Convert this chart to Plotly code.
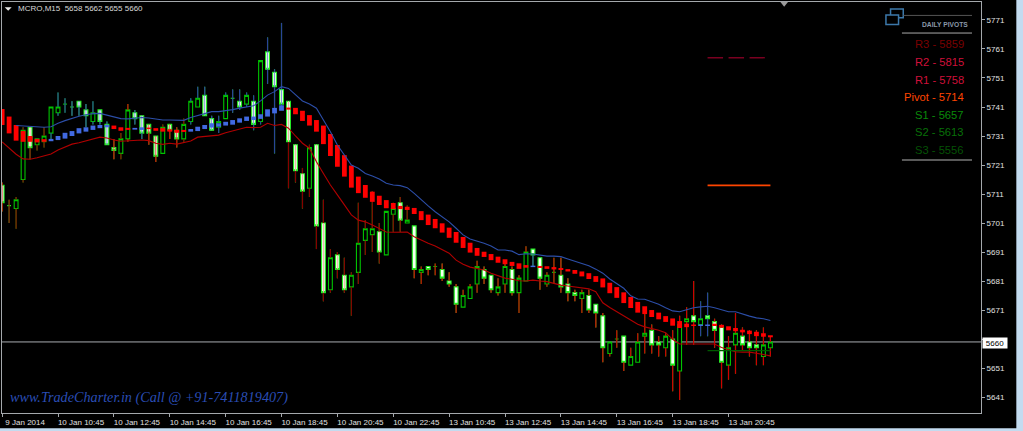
import plotly.graph_objects as go

W, H = 1023, 431
L, R, T, B = 2.3, 980.7, 2.3, 412.7

tick_bars = [0, 8, 16, 24, 32, 40, 48, 56, 64, 72, 80, 88, 96, 104]
tick_labels = ["9 Jan 2014", "10 Jan 10:45", "10 Jan 12:45", "10 Jan 14:45", "10 Jan 16:45",
               "10 Jan 18:45", "10 Jan 20:45", "10 Jan 22:45", "13 Jan 10:45", "13 Jan 12:45",
               "13 Jan 14:45", "13 Jan 16:45", "13 Jan 18:45", "13 Jan 20:45"]
price_ticks = [5771, 5761, 5751, 5741, 5731, 5721, 5711, 5701, 5691, 5681, 5671, 5661, 5651, 5641]
last_price = 5660
pivot_names = ["R3", "R2", "R1", "Pivot", "S1", "S2", "S3"]
pivot_values = [5859, 5815, 5758, 5714, 5657, 5613, 5556]
pivot_colors = ["#7a0000", "#d0103a", "#d0103a", "#ff4500", "#0a8a0a", "#087008", "#055205"]

open_ = [5714,5707,5706,5716,5734,5728,5729,5732,5739,5742,5741,5743,5740,5736,5740,5735,5727,5725,5730,5739,
         5738,5735,5731,5725,5735,5733,5730,5736,5741,5745,5737,5734,5737,5744,5743,5742,5743,5736,5760,5753,
         5747,5743,5728,5718,5713,5728,5701,5678,5690,5683,5679,5684,5695,5697,5698,5690,5704,5708,5701,5700,
         5684,5686,5686,5685,5681,5679,5672,5675,5680,5685,5683,5677,5680,5685,5677,5681,5692,5689,5680,5684,
         5683,5680,5677,5675,5676,5673,5669,5656,5661,5662,5652,5653,5662,5664,5660,5658,5661,5650,5667,5669,
         5666,5669,5667,5665,5652,5659,5662,5660,5659,5655,5658]
high = [5715,5709,5710,5734,5734,5730,5734,5741,5746,5744,5743,5743,5742,5743,5740,5736,5730,5732,5742,5740,
        5738,5735,5731,5735,5735,5734,5737,5744,5748,5748,5738,5738,5746,5747,5747,5746,5745,5757,5765,5754,
        5770,5743,5728,5720,5728,5728,5709,5692,5691,5689,5684,5708,5702,5712,5701,5705,5708,5710,5707,5700,
        5686,5686,5687,5687,5684,5680,5678,5680,5688,5686,5683,5682,5688,5686,5683,5693,5692,5689,5684,5689,
        5689,5682,5678,5678,5678,5673,5670,5660,5664,5662,5658,5663,5670,5666,5662,5663,5664,5669,5672,5681,
        5674,5677,5668,5666,5662,5670,5665,5664,5664,5665,5662]
low = [5705,5701,5699,5715,5723,5726,5727,5730,5738,5739,5738,5738,5734,5735,5735,5728,5723,5723,5729,5735,
       5730,5728,5722,5725,5730,5727,5729,5735,5741,5738,5733,5732,5737,5739,5740,5741,5733,5735,5749,5725,
       5740,5713,5715,5706,5710,5692,5674,5677,5682,5677,5669,5680,5690,5691,5687,5690,5698,5698,5701,5682,
       5680,5683,5683,5681,5679,5670,5672,5675,5677,5680,5677,5676,5677,5676,5670,5681,5686,5678,5679,5680,
       5677,5674,5674,5670,5670,5665,5653,5655,5658,5650,5652,5653,5656,5656,5655,5655,5643,5640,5659,5659,
       5662,5662,5658,5644,5647,5649,5657,5655,5652,5652,5655]
close = [5708,5707,5709,5733,5727,5730,5731,5741,5741,5742,5741,5741,5738,5739,5736,5728,5726,5730,5740,5737,
         5732,5732,5724,5734,5733,5730,5735,5743,5744,5738,5733,5736,5745,5744,5741,5745,5735,5757,5754,5748,
         5742,5729,5719,5712,5727,5700,5677,5689,5685,5678,5683,5694,5699,5699,5691,5705,5706,5702,5702,5685,
         5685,5685,5686,5682,5680,5673,5676,5679,5686,5682,5678,5679,5686,5677,5682,5691,5690,5682,5683,5684,
         5679,5677,5676,5677,5671,5670,5658,5660,5661,5653,5655,5660,5663,5659,5659,5662,5652,5666,5668,5667,
         5668,5668,5664,5653,5658,5663,5659,5658,5658,5659,5660]

trend = ["R"] + ["D"]*6 + ["B"]*9 + ["R", "D", "R"] + ["B"]*2 + ["R"]*2 + ["D"] + ["R"]*2 + ["D"] + ["B"]*14 \
        + ["D"]*18 + ["R"]*17 + ["B"] + ["R"]*23 + ["B"]*2 + ["R"]*9

ha_top = [5740.3,5737.7,5734.8,5732.7,5731,5730,5729.9,5730,5731,5732.1,5732.7,5733.7,5734,5734.6,5734.8,5734.8,
          5734.6,5734,5733.8,5733.8,5734,5733.9,5733.7,5733.7,5733.3,5733.1,5733.1,5733.4,5734.2,5734.8,5735.4,
          5735.4,5735.9,5736.5,5737.1,5737.7,5737.7,5738.5,5740.2,5740.7,5741.6,5740.8,5740.7,5739.7,5738.2,5736.5,
          5734.6,5731.7,5727.9,5724.4,5720.8,5717,5714.1,5711.8,5710.4,5708.9,5707.9,5706.9,5706.6,5706.2,5705.1,
          5703.9,5702.4,5700.9,5699.4,5697.9,5696.2,5694.2,5692.4,5691.1,5690.3,5689.4,5688.5,5687.6,5687.1,5686.5,
          5686.3,5686.2,5686.1,5685.8,5685.5,5685.1,5684.8,5684.3,5683.7,5682.7,5681.9,5680.4,5678.9,5677.1,5675.5,
          5673.8,5672.3,5671,5670.1,5668.9,5668.1,5667.2,5666.3,5666,5666,5666,5666.3,5665.9,5665.4,5664.8,5664.2,
          5663.9,5663.5,5663,5662.3]
ha_bottom = [5734.8,5731.9,5729.4,5729,5729,5728.8,5729,5729.2,5729.6,5730.1,5731,5731.9,5732.5,5733.1,5733.7,5734,
             5733.4,5732.8,5733.1,5733.2,5733.1,5733.4,5732.8,5732.5,5732.5,5732.1,5732.4,5732.5,5732.7,5733.4,5733.9,
             5734.2,5734.6,5734.9,5735.6,5736.2,5736.5,5736.9,5737.7,5738.8,5739.7,5740.1,5738.5,5736.2,5734.6,5732.5,
             5728.2,5724.1,5720.4,5717,5713.2,5711.3,5709.7,5708.3,5707.2,5706.1,5705.8,5705.8,5705.5,5704.1,5702,
             5700.3,5699.2,5697.7,5695.9,5694.2,5692.4,5690.8,5689.7,5689.3,5688.2,5687.3,5686.8,5686.2,5685.2,5685.6,
             5685.8,5685.5,5685.2,5685,5684.8,5684.3,5683.5,5682.6,5681.7,5680.7,5678.8,5676.8,5675.2,5673.4,5671.7,
             5670.1,5669.6,5668.6,5667.8,5666.9,5665.6,5664.8,5665.1,5665.5,5665.5,5665.5,5665.5,5664.9,5664,5663.7,
             5663.3,5662.7,5662,5661.8,5661.6]

upper_band = [None,None,5734.6,5734.4,5734.2,5734,5734,5734.2,5735.4,5736.3,5737.1,5737.8,5738.3,5738.7,5738.8,5738.2,
              5737.4,5737,5736.9,5737.1,5737.4,5737.2,5736.8,5736.5,5736.5,5736.5,5736.4,5737.4,5738,5738.8,5739.4,
              5739.4,5739.7,5740.1,5740.6,5741.1,5741.4,5743.1,5745.1,5746.3,5748,5747.4,5745.1,5743.1,5742,5740.6,
              5736.5,5732.5,5727.9,5724.4,5721,5719.9,5718.1,5717.2,5716.2,5714.7,5714.1,5713.9,5713.2,5711.2,5708.9,
              5706.9,5704.9,5703.2,5701.4,5699.2,5696.9,5695.5,5694.8,5694,5693.1,5691.7,5691.7,5691.3,5690.1,5690.4,
              5690.3,5690,5689.6,5689.6,5689.4,5688.6,5687.9,5687.1,5686.3,5685.1,5683.7,5681.7,5680.2,5678.5,5675.9,
              5674.8,5674.7,5673.9,5673,5671.8,5670.7,5670.4,5671,5671.8,5672.1,5672.3,5671.8,5671.1,5670.4,5670.4,
              5669.6,5668.9,5668.3,5668,5667.4]
lower_band = [5729,5726.8,5724.7,5723.1,5723,5723.5,5724.1,5724.8,5726.2,5727.3,5728.2,5728.7,5729.4,5730.1,5730.6,5730.3,
              5729.6,5729.2,5729.3,5729.6,5729.6,5729.4,5728.5,5728.1,5728.5,5728.2,5728.7,5729.3,5730.6,5730.9,5731,
              5731.3,5732.1,5732.8,5733.3,5734,5733.9,5734,5735.4,5734.6,5735,5733.7,5731,5728.5,5726.8,5722.1,5718.1,
              5714.1,5710.7,5707.2,5703.8,5702,5701.4,5700.3,5699.2,5697.9,5697.8,5697.9,5697.9,5696.3,5695.1,5694,
              5693.1,5691.9,5690.6,5688.2,5686.8,5685.8,5685.4,5684.8,5683.7,5682.8,5682,5681.6,5681.1,5681,5681.3,5681,
              5680.8,5680.2,5679.6,5679.3,5679,5678.8,5678.3,5677.3,5673.5,5671.9,5670.4,5668.9,5667.4,5666.1,5665.2,
              5664.7,5664,5663.2,5660.9,5659.3,5659.2,5659.3,5659.3,5659.3,5659.3,5658.1,5657.4,5656.6,5656.5,5656.5,
              5656.1,5655.7,5655.2]

bars = list(range(len(close)))
body_top = [max(o, c) for o, c in zip(open_, close)]
body_bottom = [min(o, c) for o, c in zip(open_, close)]
FIRST_CLEAN_BODY = 59
WICK_COLORS = {"B": "#2a4596", "D": "#860000", "R": "#cc0000"}
TINT_COLORS = {"B": "#7f95dd", "D": "#eeb4a4", "R": "#e04848"}


def px(x):
    return (x - L) / (R - L)


def py(y):
    return 1 - (y - T) / (B - T)


def segments(idx, lo, hi):
    xs, ys = [], []
    for i in idx:
        xs += [i, i, None]
        ys += [lo[i], hi[i], None]
    return xs, ys


def add_lines(xs, ys, **line):
    fig.add_trace(go.Scatter(x=xs, y=ys, mode="lines", line=line, hoverinfo="skip", showlegend=False))


fig = go.Figure()
fig.add_trace(go.Candlestick(
    x=bars, open=open_, high=high, low=low, close=close, hoverinfo="skip", showlegend=False,
    increasing=dict(line=dict(color="#00c400", width=1.1), fillcolor="#000000"),
    decreasing=dict(line=dict(color="#22ee22", width=1.1), fillcolor="#f6fff2")))

for tone, color in WICK_COLORS.items():
    idx = [i for i in bars if trend[i] == tone]
    xs1, ys1 = segments(idx, body_top, high)
    xs2, ys2 = segments(idx, low, body_bottom)
    add_lines(xs1 + xs2, ys1 + ys2, color=color, width=1.2)

for tone, color in TINT_COLORS.items():
    idx = [i for i in bars if trend[i] == tone and i < FIRST_CLEAN_BODY and close[i] < open_[i]]
    xs, ys = segments(idx, body_bottom, body_top)
    add_lines(xs, ys, color=color, width=1)

for is_blue, color in ((False, "#ff0000"), (True, "#4169e1")):
    xs, ys = segments([i for i in bars if (trend[i] == "B") == is_blue], ha_bottom, ha_top)
    add_lines(xs, ys, color=color, width=4.8)

add_lines(bars, upper_band, color="#2c4ea8", width=1.1)
add_lines(bars, lower_band, color="#b00000", width=1.1)

pivot_start, pivot_end, r1_end = 101, 110, 109.2
add_lines([pivot_start, r1_end], [pivot_values[2]]*2, color="#7a0020", width=1.4, dash="15.5px,5.5px")
add_lines([pivot_start, pivot_end], [pivot_values[3]]*2, color="#ff4500", width=1.7)
add_lines([pivot_start, pivot_end], [pivot_values[4]]*2, color="#005a00", width=1.2)

shapes = [
    dict(type="line", xref="paper", yref="y", x0=0, x1=1, y0=last_price, y1=last_price,
         line=dict(color="#a8acb0", width=1), layer="below"),
    dict(type="rect", xref="paper", yref="paper", x0=px(1016), x1=px(1030), y0=py(-5), y1=py(440),
         fillcolor="#c3dbf0", line=dict(width=0)),
    dict(type="rect", xref="paper", yref="paper", x0=px(-5), x1=px(1030), y0=py(428), y1=py(440),
         fillcolor="#c3dbf0", line=dict(width=0)),
    dict(type="rect", xref="paper", yref="paper", x0=px(890.3), x1=px(903), y0=py(9.3), y1=py(18),
         line=dict(color="#3c78aa", width=1.5)),
    dict(type="rect", xref="paper", yref="paper", x0=px(885.7), x1=px(898.3), y0=py(15.3), y1=py(24.7),
         line=dict(color="#3c78aa", width=1.5), fillcolor="#000000"),
    dict(type="line", xref="paper", yref="paper", x0=px(903), x1=px(971.7), y0=py(15.7), y1=py(15.7),
         line=dict(color="#555555", width=1)),
    dict(type="line", xref="paper", yref="paper", x0=px(901.7), x1=px(971.7), y0=py(33.3), y1=py(33.3),
         line=dict(color="#aaaaaa", width=1)),
    dict(type="line", xref="paper", yref="paper", x0=px(901.7), x1=px(971.7), y0=py(160), y1=py(160),
         line=dict(color="#777777", width=1.4)),
    dict(type="path", xref="paper", yref="paper", line=dict(width=0), fillcolor="#e8e8e8",
         path=f"M{px(5)},{py(7.5)} L{px(12)},{py(7.5)} L{px(8.5)},{py(11)} Z"),
    dict(type="path", xref="paper", yref="paper", line=dict(width=0), fillcolor="#9a9a9a",
         path=f"M{px(780)},{py(2)} L{px(788)},{py(2)} L{px(784)},{py(7)} Z"),
]

FONT = "Liberation Sans"
ann = [
    dict(x=px(16), y=py(9), text="MCRO,M15  5658 5662 5655 5660", xanchor="left", yanchor="middle",
         font=dict(family=FONT, size=8, color="#d8d8d8")),
    dict(x=px(969.5), y=py(24.3), text="<b>DAILY PIVOTS</b>", xanchor="right", yanchor="middle",
         font=dict(family=FONT, size=6.7, color="#8a98a8")),
    dict(x=px(8), y=py(397), text="<i>www.TradeCharter.in (Call @ +91-7411819407)</i>", xanchor="left", yanchor="middle",
         font=dict(family="Liberation Serif", size=14.2, color="#2a4db4")),
    dict(x=px(981.5), y=py(343), text=str(last_price), xanchor="left", yanchor="middle", bgcolor="#ffffff",
         borderpad=0, font=dict(family=FONT, size=8, color="#000000"), width=24, height=10, align="center"),
]
row_y = [44.7, 62, 79.7, 97, 114.7, 132, 149.7]
for name, value, color, yy in zip(pivot_names, pivot_values, pivot_colors, row_y):
    ann.append(dict(x=px(966), y=py(yy), text=f"{name} - {value}", xanchor="right", yanchor="middle",
                    font=dict(family=FONT, size=11.2, color=color)))
for a in ann:
    a.update(xref="paper", yref="paper", showarrow=False)

axis_common = dict(showgrid=False, zeroline=False, showline=True, mirror=True, linecolor="#a4a8ac", linewidth=1,
                   ticks="outside", ticklen=3, tickwidth=1, tickcolor="#a4a8ac",
                   tickfont=dict(family=FONT, size=8, color="#e0e0e0"))
fig.update_layout(
    width=W, height=H, autosize=False,
    margin=dict(l=L, r=W - R, t=T, b=H - B, pad=0),
    paper_bgcolor="#000000", plot_bgcolor="#000000", boxgap=0.22,
    showlegend=False, shapes=shapes, annotations=ann,
    xaxis=dict(range=[-0.02, 140.15], tickmode="array", tickvals=tick_bars, ticktext=tick_labels,
               rangeslider=dict(visible=False), ticklabelshift=23, ticklabelstandoff=-2, fixedrange=True, **axis_common),
    yaxis=dict(range=[5635.5, 5777.2], side="right", tickmode="array", tickvals=price_ticks,
               ticktext=["" if p == 5661 else str(p) for p in price_ticks], fixedrange=True, **axis_common),
)

fig.write_html("out.html", config=dict(displayModeBar=False),
               post_script="document.body.style.margin='0';document.body.style.overflow='hidden';")
